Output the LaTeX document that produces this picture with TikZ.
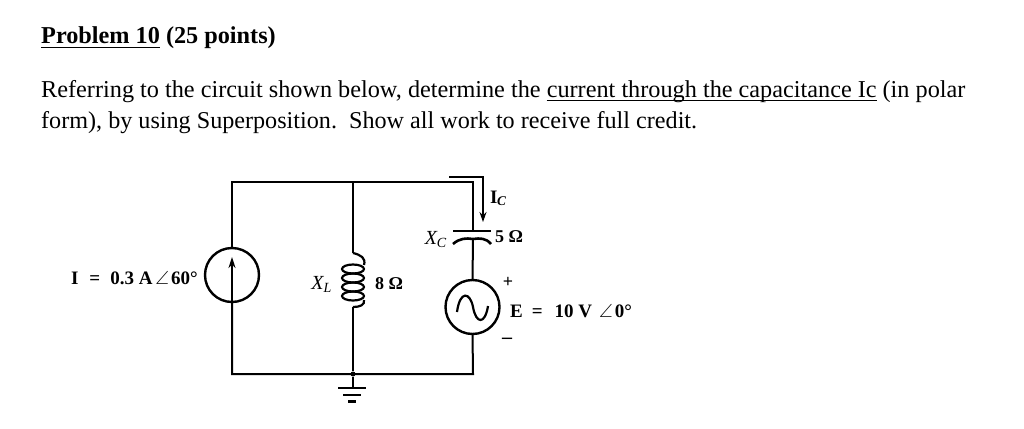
\documentclass[tikz,border=0pt]{standalone}
\usepackage{fontspec}
\usepackage{amsmath}
\usepackage{amssymb}
\setmainfont{Liberation Serif}
\usetikzlibrary{arrows.meta, positioning}
\tikzset{
	wire/.style={line width=2pt, line join=miter},
	srcbox/.style={circle, draw, line width=2.4pt, minimum size=54pt, inner sep=0pt, outer sep=0pt},
	textline/.style={anchor=base west, inner sep=0pt, font=\fontsize{24.25}{26}\selectfont},
	lab/.style={inner sep=0pt, font=\fontsize{18}{18}\selectfont\bfseries},
	srclab/.style={inner sep=0pt, font=\fontsize{19}{19}\selectfont\bfseries},
	itlab/.style={inner sep=0pt, font=\fontsize{20}{20}\selectfont\itshape},
	plate/.style={line width=2.6pt},
	pt/.style={circle, fill, inner sep=0pt, minimum size=5pt}
}
\begin{document}
\begin{tikzpicture}[x=1pt, y=-1pt]
	\useasboundingbox (0,0) rectangle (1024,428);
	\node [textline, font=\fontsize{24.25}{26}\selectfont\bfseries] (title) at (41,44) {\underline{\smash{Problem 10}} (25 points)};
	\node [textline] (lineone) at (41,97) {Referring to the circuit shown below, determine the \underline{\smash{current through the capacitance Ic}} (in polar};
	\node [textline, font=\fontsize{24.15}{26}\selectfont] (linetwo) at (41,128) {form), by using Superposition.\ \ Show all work to receive full credit.};

	\node [srcbox] (isrc) at (232,275) {};
	\node [srcbox] (esrc) at (472.5,307) {};
	\coordinate (lefttop) at (232,182);
	\coordinate (midtop) at (353,182);
	\coordinate (righttop) at (473,182);
	\coordinate (leftbot) at (232,374);
	\coordinate (rightbot) at (473,374);
	\coordinate (coiltop) at (353,253);
	\coordinate (coilbot) at (353,307);
	\coordinate (capup) at (473,231);
	\coordinate (capdown) at (473,239);
	\node [pt] (midbot) at (353,374) {};
	\coordinate (gndtop) at (353,388);

	\draw [wire] (isrc.north) -- (lefttop) -- (righttop) -- (capup);
	\draw [wire] (isrc.south) -- (leftbot) -- (rightbot) -- (esrc.south);
	\draw [wire] (capdown) -- (esrc.north);
	\draw [wire] (midtop) -- (coiltop);
	\draw [wire] (coilbot) -- (midbot) -- (gndtop);

	\draw [-{Stealth[length=11pt, width=7pt]}, line width=1.8pt] (isrc.south) -- (232,257);

	\draw [plate] (453,231) -- (491,231);
	\draw [plate] (453,244) .. controls (460,238) and (466,238) .. (capdown) .. controls (480,238) and (486,238) .. (491,244);

	\draw [line width=2.2pt] (coiltop) .. controls (361,255) and (366,258) .. (364,265);
	\foreach \yy in {269,278,287,296} {
		\draw [line width=2.2pt] (353,\yy) ellipse (11pt and 4.5pt);
	}
	\draw [line width=2.2pt] (364,300) .. controls (365,305) and (360,307) .. (coilbot);

	\draw [line width=2.2pt] (457,312) .. controls (460,290) and (470,292) .. (473,307) .. controls (476,324) and (485,325) .. (488,306);

	\draw [line width=1.2pt, -{Stealth[length=10pt, width=7pt]}] (449,177) -- (483,177) -- (483,222);

	\draw [line width=2.4pt] (338,388) -- (366,388);
	\draw [line width=2.4pt] (343,395) -- (361,395);
	\draw [line width=3pt] (348,401) -- (356,401);

	\node [lab, font=\fontsize{19}{20}\selectfont\bfseries, anchor=base west] (iclab) at (490,203) {I\textsubscript{\kern-0.5pt\itshape C}};
	\node [itlab, anchor=base east] (xclab) at (447,244) {X\textsubscript{C}};
	\node [lab, anchor=base west] (fivelab) at (495,242) {5 Ω};
	\node [itlab, anchor=base east] (xllab) at (332,289) {X\textsubscript{L}};
	\node [lab, anchor=base west] (eightlab) at (375,289) {8 Ω};
	\node [srclab, anchor=base east] (ilab) at (198,284) {I\hspace{11pt}=\hspace{10pt}0.3 A\hspace{3pt}$\angle$\hspace{2pt}60°};
	\node [srclab, anchor=base west] (elab) at (510,317) {E\hspace{9pt}=\hspace{12pt}10 V\hspace{7pt}$\angle$\hspace{2pt}0°};
	\node [lab] (pluslab) at (508,282) {+};
	\node [lab, font=\fontsize{20}{20}\selectfont\bfseries] (minuslab) at (507,341) {--};
\end{tikzpicture}
\end{document}
